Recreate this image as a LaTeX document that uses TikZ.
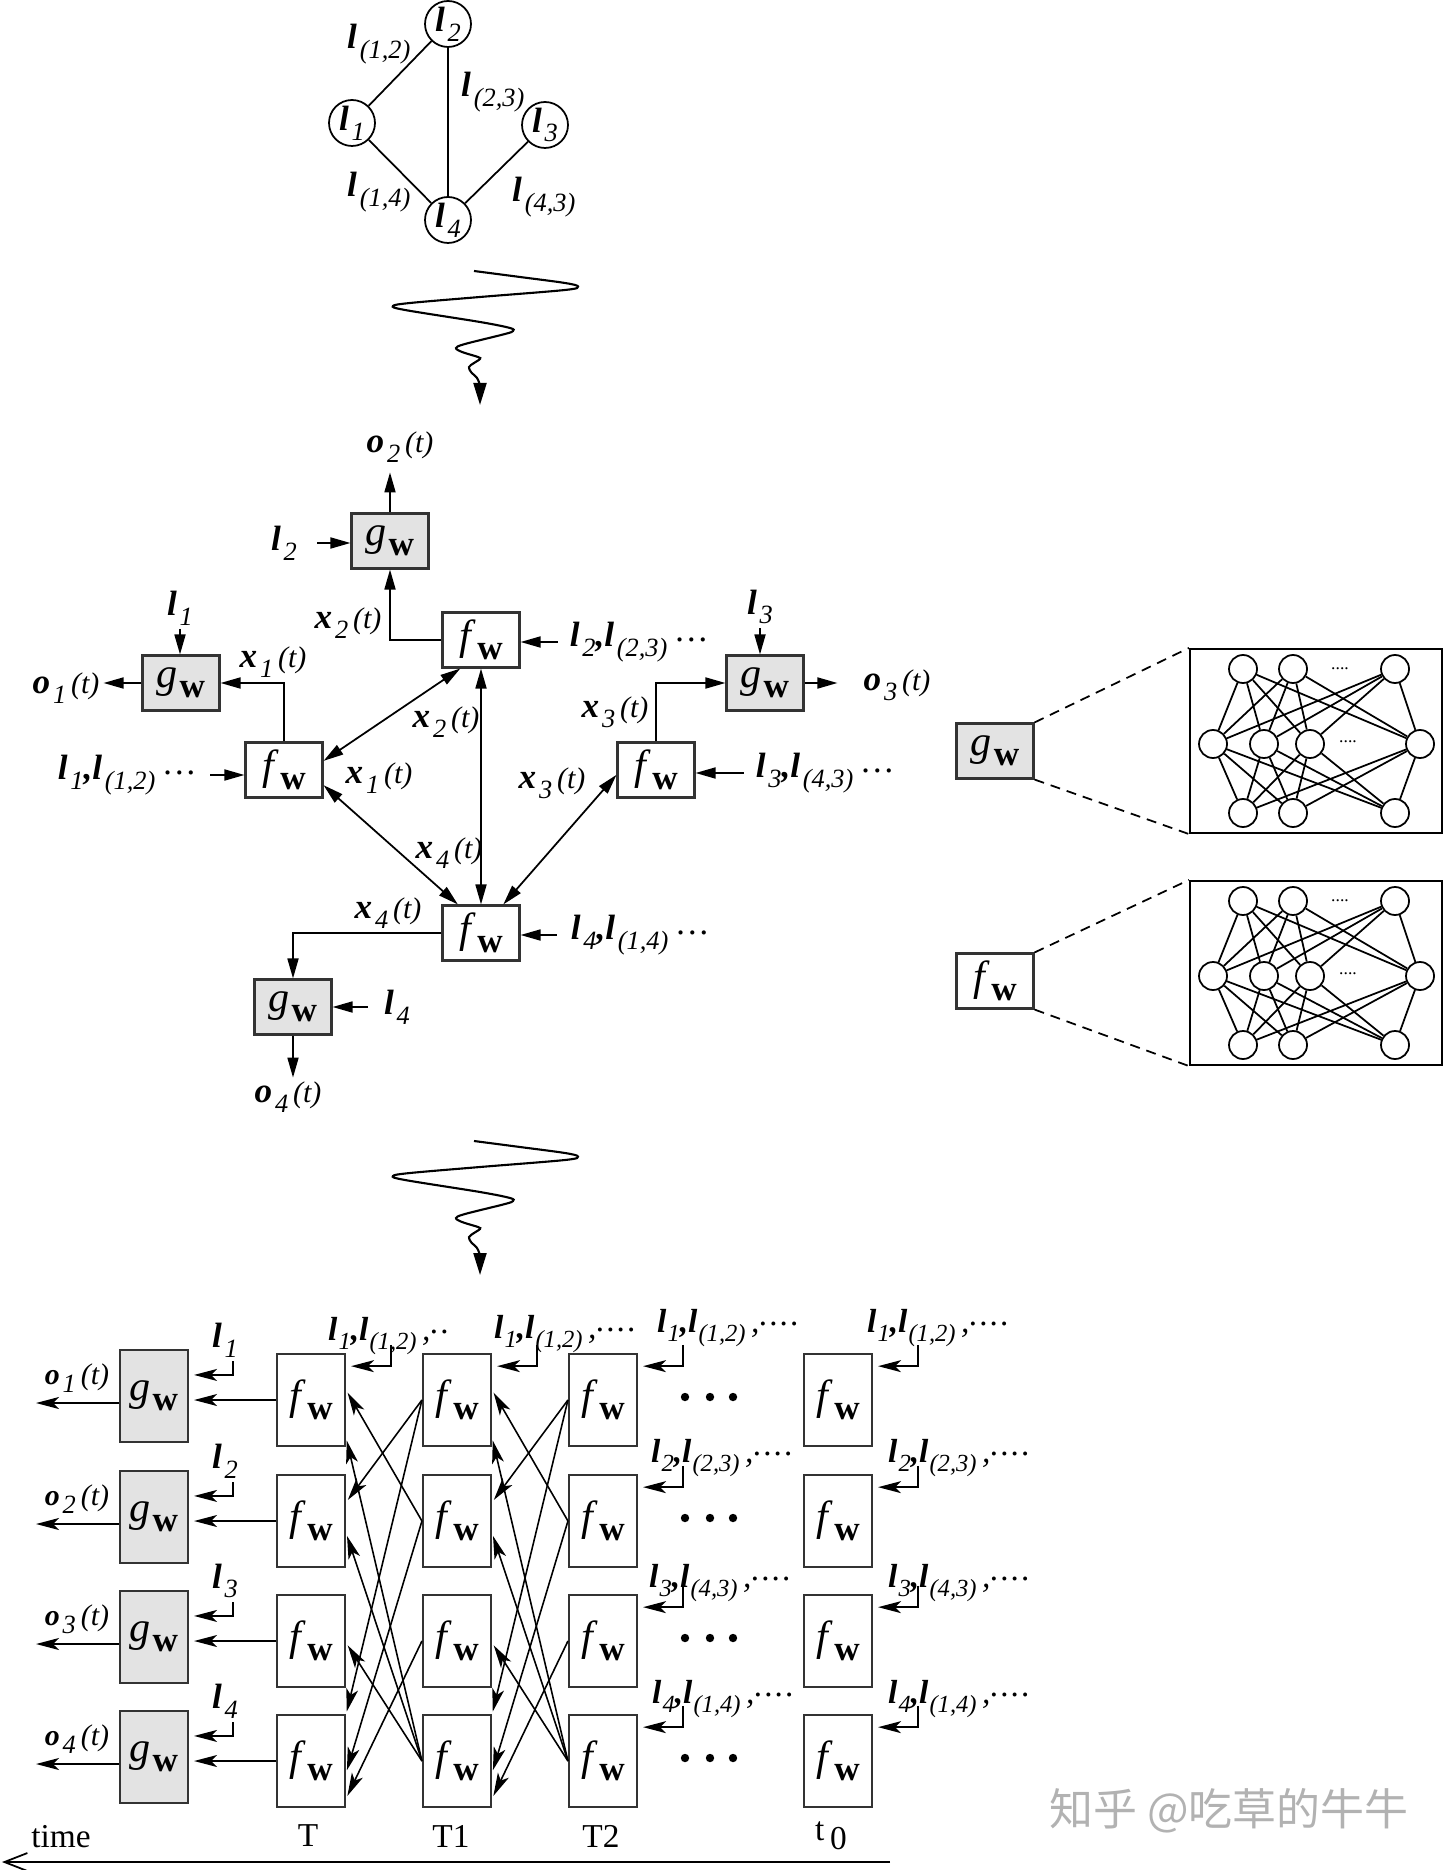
\documentclass[tikz,border=0pt]{standalone}
\usepackage{fontspec}
\setmainfont{Liberation Serif}
\newfontfamily\cjk{Noto Sans CJK SC}
\usetikzlibrary{arrows.meta,calc}

\newcommand{\lsub}[1]{\kern0.8pt\raisebox{-0.6ex}{\fontsize{7.5}{9}\selectfont\mdseries\itshape #1}}
\newcommand{\bsub}[1]{\kern0.3pt\raisebox{-0.6ex}{\fontsize{7}{8}\selectfont\mdseries\itshape #1}}
\newcommand{\argt}{{\fontsize{8.5}{10}\selectfont\mdseries\itshape\,(t)}}
\newcommand{\mdots}{{\mdseries\ \raisebox{0.3ex}{.\kern0.8pt.\kern0.8pt.}}}
\newcommand{\bdots}[1]{{\mdseries\,,\raisebox{0.4ex}{\ifnum#1=1 .\kern0.6pt.\else.\kern0.6pt.\kern0.6pt.\kern0.6pt.\fi}}}
\newcommand{\fW}{\textit{f}\kern0.5pt\raisebox{-0.5ex}{\fontsize{10}{12}\selectfont\bfseries w}}
\newcommand{\gW}{\textit{g}\kern0.5pt\raisebox{-0.5ex}{\fontsize{10}{12}\selectfont\bfseries w}}
\newcommand{\rowlab}[1]{\ifcase#1\or l\bsub{1},l\bsub{(1,2)}\or l\bsub{2},l\bsub{(2,3)}\or
  l\bsub{3},l\bsub{(4,3)}\or l\bsub{4},l\bsub{(1,4)}\fi}

\tikzset{
  unit/.style={draw=black!80, line width=0.6pt, inner sep=0pt,
    minimum width=7.7mm, minimum height=5.5mm, font=\fontsize{12}{14}\selectfont},
  gunit/.style={unit, fill=black!11},
  tallunit/.style={unit, minimum width=6.8mm, minimum height=9.2mm},
  tallg/.style={tallunit, fill=black!11},
  lab/.style={inner sep=1pt, font=\fontsize{10}{12}\selectfont\bfseries\itshape},
  olab/.style={lab, font=\fontsize{8.5}{10}\selectfont\bfseries\itshape},
  blab/.style={lab, font=\fontsize{9.5}{11}\selectfont\bfseries\itshape},
  tlab/.style={inner sep=1pt, font=\fontsize{9.5}{11}\selectfont},
  sym/.style={draw, circle, line width=0.5pt, inner sep=0pt, minimum size=4.6mm,
    font=\fontsize{10}{12}\selectfont\bfseries\itshape},
  neuron/.style={draw, circle, line width=0.5pt, minimum size=2.8mm, inner sep=0pt},
  link/.style={line width=0.5pt},
  arr/.style={line width=0.5pt, -{Triangle[length=2mm,width=1.1mm]}},
  darr/.style={line width=0.5pt, {Triangle[length=2mm,width=1.1mm]}-{Triangle[length=2mm,width=1.1mm]}},
  sarr/.style={line width=0.45pt, -{Stealth[length=2.3mm,width=1.2mm,inset=0.6mm]}},
}

\begin{document}
\begin{tikzpicture}[x=0.1mm,y=-0.1mm]
\useasboundingbox (0,0) rectangle (1444,1870);

% graph of labels
\node[sym] (n1) at (352,123) {l\lsub{1}};
\node[sym] (n2) at (448,24) {l\lsub{2}};
\node[sym] (n3) at (545,125) {l\lsub{3}};
\node[sym] (n4) at (448,220) {l\lsub{4}};
\draw[link] (n1) -- (n2);
\draw[link] (n2) -- (n4);
\draw[link] (n1) -- (n4);
\draw[link] (n3) -- (n4);
\node[lab, anchor=base west] (e12) at (343,49) {l\lsub{(1,2)}};
\node[lab, anchor=base west] (e23) at (457,97) {l\lsub{(2,3)}};
\node[lab, anchor=base west] (e14) at (343,197) {l\lsub{(1,4)}};
\node[lab, anchor=base west] (e43) at (508,202) {l\lsub{(4,3)}};

% wavy arrows
\foreach \dy in {0,870}
  \draw[line width=0.6pt, -{Triangle[length=2.2mm,width=1.3mm]}, shift={(0,\dy)}]
    plot[smooth, tension=0.55] coordinates {(474,271) (520,277) (565,283) (578,286.5)
      (565,290) (480,297) (410,303) (393,306) (405,310) (480,322) (510,328) (513,331)
      (505,334) (465,344) (456,348) (462,352) (478,357) (480,359) (474,363) (469,367)
      (471,372) (477,378) (480,385)} -- (480,405);

% encoding network
\node[gunit] (g1) at (181,683) {\gW};
\node[gunit] (g2) at (390,541) {\gW};
\node[gunit] (g3) at (765,683) {\gW};
\node[gunit] (g4) at (293,1007) {\gW};
\node[unit] (f1) at (284,770) {\fW};
\node[unit] (f2) at (481,640) {\fW};
\node[unit] (f3) at (656,770) {\fW};
\node[unit] (f4) at (481,933) {\fW};

\node[lab] (out1) at (66,688) {o\lsub{1}\argt};
\node[lab] (out2) at (400,447) {o\lsub{2}\argt};
\node[lab] (out3) at (897,685) {o\lsub{3}\argt};
\node[lab] (out4) at (288,1097) {o\lsub{4}\argt};
\node[lab] (c1) at (180,608) {l\lsub{1}};
\node[lab] (c2) at (284,543) {l\lsub{2}};
\node[lab] (c3) at (760,607) {l\lsub{3}};
\node[lab] (c4) at (397,1007) {l\lsub{4}};
\node[lab] (i1) at (127,775) {l\lsub{1},l\lsub{(1,2)}\mdots};
\node[lab] (i2) at (639,642) {l\lsub{2},l\lsub{(2,3)}\mdots};
\node[lab] (i3) at (825,773) {l\lsub{3},l\lsub{(4,3)}\mdots};
\node[lab] (i4) at (640,935) {l\lsub{4},l\lsub{(1,4)}\mdots};
\node[lab] (x1a) at (273,662) {x\lsub{1}\argt};
\node[lab] (x2a) at (348,623) {x\lsub{2}\argt};
\node[lab] (x3a) at (615,712) {x\lsub{3}\argt};
\node[lab] (x4a) at (388,913) {x\lsub{4}\argt};
\node[lab] (x2b) at (446,722) {x\lsub{2}\argt};
\node[lab] (x1b) at (379,778) {x\lsub{1}\argt};
\node[lab] (x4b) at (449,853) {x\lsub{4}\argt};
\node[lab] (x3b) at (552,783) {x\lsub{3}\argt};

\draw[arr] (f1.north) |- (g1.east);
\draw[arr] (f2.west) -| (g2.south);
\draw[arr] (f3.north) |- (g3.west);
\draw[arr] (f4.west) -| (g4.north);
\draw[darr] (f1.13) -- (f2.234);
\draw[darr] (f1.339) -- (f4.129);
\draw[darr] (f2.south) -- (f4.north);
\draw[darr] (f4.52) -- (f3.187);
\draw[arr] (c1.south) -- (c1.south |- g1.north);
\draw[arr] (c3.south) -- (c3.south |- g3.north);
\draw[arr, shorten <=1.6mm] (c2.east) -- (c2.east -| g2.west);
\draw[arr, shorten <=1.2mm] (c4.west) -- (c4.west -| g4.east);
\draw[arr] (g1.west) -- (g1.west -| out1.east);
\draw[arr, shorten >=0.6mm] (g2.north) -- (g2.north |- out2.south);
\draw[arr, shorten >=2.2mm] (g3.east) -- (g3.east -| out3.west);
\draw[arr] (g4.south) -- (g4.south |- out4.north);
\draw[arr, shorten <=1mm] (i1.east) -- (i1.east -| f1.west);
\draw[arr, shorten <=0.8mm] (i2.west) -- (i2.west -| f2.east);
\draw[arr, shorten <=0.8mm] (i3.west) -- (i3.west -| f3.east);
\draw[arr, shorten <=1mm] (i4.west) -- (i4.west -| f4.east);

% the two transition networks
\node[gunit] (gmini) at (995,751) {\gW};
\node[unit] (fmini) at (995,981) {\fW};
\foreach \k/\y in {1/649,2/881} {
  \node[draw, line width=0.6pt, minimum width=25.2mm, minimum height=18.4mm, inner sep=0pt]
    (net\k) at (1316,{\y+92}) {};
  \foreach \i/\x in {1/1243,2/1293,3/1395} {
    \node[neuron] (t\k\i) at (\x,{\y+20}) {};
    \node[neuron] (b\k\i) at (\x,{\y+164}) {};
  }
  \foreach \j/\x in {1/1213,2/1264,3/1310,4/1420}
    \node[neuron] (m\k\j) at (\x,{\y+95}) {};
  \foreach \i in {1,2,3}
    \foreach \j in {1,...,4} {
      \draw[link] (t\k\i) -- (m\k\j);
      \draw[link] (m\k\j) -- (b\k\i);
    }
  \node[font=\tiny, inner sep=0pt] (dt\k) at (1340,{\y+20}) {....};
  \node[font=\tiny, inner sep=0pt] (dm\k) at (1348,{\y+93}) {....};
}
\draw[link, dash pattern=on 1mm off 0.7mm] (gmini.north east) -- (net1.north west);
\draw[link, dash pattern=on 1mm off 0.7mm] (gmini.south east) -- (net1.south west);
\draw[link, dash pattern=on 1mm off 0.7mm] (fmini.north east) -- (net2.north west);
\draw[link, dash pattern=on 1mm off 0.7mm] (fmini.south east) -- (net2.south west);

% unfolded network
\foreach \r/\y in {1/1400,2/1521,3/1641,4/1761} {
  \node[tallg] (ug\r) at (154,{\y-4}) {\gW};
  \foreach \c/\x in {T/311,U/457,V/603,Z/838}
    \node[tallunit] (u\c\r) at (\x,\y) {\fW};
  \node[olab] (bo\r) at (77,{\y-22}) {o\lsub{\r}\argt};
  \node[lab] (bl\r) at (225,{\y-60}) {l\lsub{\r}};
  \coordinate (oe\r) at (36,{\y+3});
  \draw[sarr, shorten >=0.5mm] (uT\r.west) -- (uT\r.west -| ug\r.east);
  \draw[sarr] (ug\r.west |- oe\r) -- (oe\r);
  \draw[sarr, shorten >=0.5mm] ($(bl\r.south)+(8,0)$) |- (ug\r.31);
  \foreach \x in {685,710,733}
    \fill (\x,{\y-3}) circle (0.42mm);
}
\foreach \s/\t/\a in {1/2/28,1/4/53,2/1/16,2/4/341,3/4/313,4/1/313,4/2/341,4/3/357} {
  \draw[sarr, shorten >=0.3mm] (uU\s.west) -- (uT\t.\a);
  \draw[sarr, shorten >=0.3mm] (uV\s.west) -- (uU\t.\a);
}
\foreach \c/\r/\x/\y/\d in {T/1/324/1340/1,U/1/490/1338/2,V/1/653/1332/2,Z/1/863/1332/2,
    V/2/647/1462/2,V/3/645/1587/2,V/4/648/1703/2,Z/2/884/1462/2,Z/3/884/1587/2,Z/4/884/1703/2} {
  \node[blab, anchor=base west] (in\c\r) at (\x,\y) {\rowlab{\r}\bdots{\d}};
  \coordinate (k\c\r) at ($(u\c\r.north east)+(45,-8)$);
  \draw[sarr, shorten >=0.5mm] (k\c\r) |- (u\c\r.44);
}

% time axis
\node[tlab] (time) at (61,1837) {time};
\node[tlab] (tT) at (308,1836) {T};
\node[tlab] (tU) at (451,1836) {T1};
\node[tlab] (tV) at (601,1836) {T2};
\node[tlab] (tZ) at (831,1836) {t\,\raisebox{-0.6ex}{0}};
\coordinate (axr) at (890,1862);
\coordinate (axl) at (2,1862);
\draw[line width=0.5pt, -{Straight Barb[length=2.3mm,width=1.8mm]}] (axr) -- (axl);

\node[text=black!30, font=\cjk\fontsize{12.5}{15}\selectfont] (wm) at (1229,1811) {知乎 @吃草的牛牛};
\end{tikzpicture}
\end{document}
